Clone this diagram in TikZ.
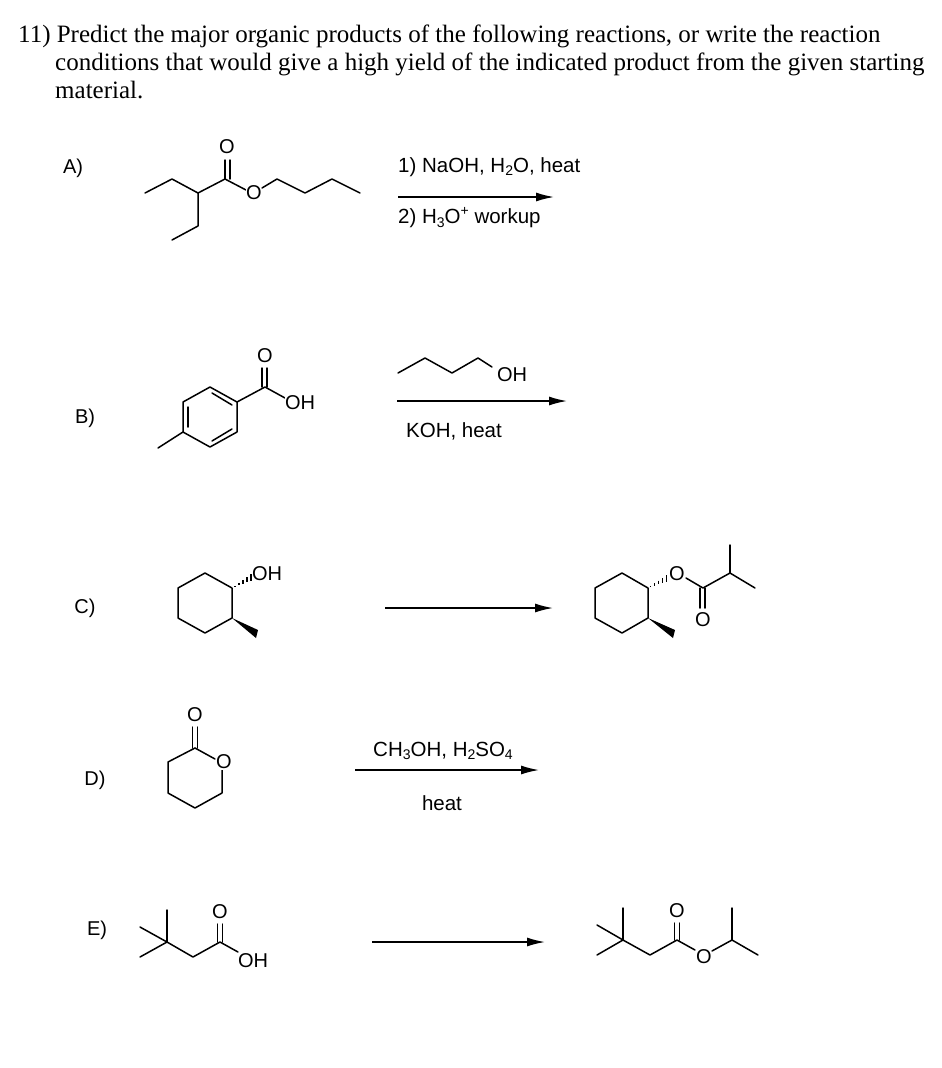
\documentclass[tikz,border=0pt]{standalone}
\usepackage{fontspec}
\setmainfont{Liberation Serif}
\newfontfamily\arial{Liberation Sans}
\usetikzlibrary{arrows.meta,calc}
\newcommand{\sbs}[1]{\raisebox{-0.3ex}{\fontsize{14}{14}\selectfont #1}}
\newcommand{\sps}[1]{\raisebox{0.75ex}{\fontsize{14}{14}\selectfont #1}}
\begin{document}
\begin{tikzpicture}[x=1pt,y=-1pt,
  bond/.style={line width=1.5pt,line cap=round,line join=round},
  atom/.style={font=\arial\fontsize{20}{20}\selectfont,inner sep=0.5pt,fill=white},
  lbl/.style={font=\arial\fontsize{20}{20}\selectfont,inner sep=0pt},
  cond/.style={font=\arial\fontsize{20.5}{20.5}\selectfont,inner sep=0pt},
  ttl/.style={font=\fontsize{25}{25}\selectfont,inner sep=0pt,anchor=base west},
  rarrow/.style={line width=1.5pt,-{Latex[length=18pt,width=9pt]}}]
\useasboundingbox (0,0) rectangle (942,1068);
% title
\node[ttl] (t1) at (18,42) {11) Predict the major organic products of the following reactions, or write the reaction};
\node[ttl] (t2) at (55,70) {conditions that would give a high yield of the indicated product from the given starting};
\node[ttl] (t3) at (55,98) {material.};
% labels
\node[lbl] (la) at (73,168) {A)};
\node[lbl] (lb) at (85,418) {B)};
\node[lbl] (lc) at (85,608) {C)};
\node[lbl] (ld) at (95,780) {D)};
\node[lbl] (le) at (97,930) {E)};

% ===== A =====
\draw[bond] (145,193)--(172,179)--(198,193)--(198,226)--(172,240);
\draw[bond] (198,193)--(225,179)--(246,190);
\draw[bond] (225,179)--(225,160); \draw[bond] (230,179)--(230,160);
\node[atom] (ao) at (227,147) {O};
\node[atom] (ao2) at (254,193) {O};
\draw[bond] (262,188)--(277,179)--(305,193)--(332,179)--(360,193);
\node[cond,anchor=west] (ac1) at (398,167) {1) NaOH, H\sbs{2}O, heat};
\node[cond,anchor=west] (ac2) at (398,218) {2) H\sbs{3}O\sps{+} workup};
\coordinate (aa1) at (398,197); \coordinate (aa2) at (554,197);
\draw[rarrow] (aa1)--(aa2);

% ===== B =====
\draw[bond] (210,387)--(237,402)--(237,432)--(210,447)--(183,432)--(183,402)--cycle;
\draw[bond] (188,407)--(188,427);
\draw[bond] (212,393)--(232,405);
\draw[bond] (212,441)--(232,429);
\draw[bond] (183,432)--(158,448);
\draw[bond] (237,402)--(265,387)--(285,398);
\draw[bond] (262,387)--(262,368); \draw[bond] (267,387)--(267,368);
\node[atom] (bo) at (265,356) {O};
\node[atom] (boh) at (300,403) {OH};
\draw[bond] (398,373)--(425,358)--(452,373)--(478,358)--(492,367);
\node[atom] (boh2) at (512,375) {OH};
\coordinate (ba1) at (397,401); \coordinate (ba2) at (567,401);
\draw[rarrow] (ba1)--(ba2);
\node[cond] (bc) at (454,431) {KOH, heat};

% ===== C =====
\draw[bond] (205,573)--(232,588)--(232,618)--(205,633)--(178,618)--(178,588)--cycle;
\foreach \t in {0.15,0.35,0.55,0.75,0.95}{
  \draw[line width=1.1pt] ($(232,588)!\t!(252,577)+(0,-\t*3.4)$)--($(232,588)!\t!(252,577)+(0,\t*3.4)$);}
\node[atom] (coh) at (267,574) {OH};
\fill (232,618)--(258,630)--(256,638)--cycle;
\coordinate (ca1) at (385,608); \coordinate (ca2) at (553,608);
\draw[rarrow] (ca1)--(ca2);
% product
\draw[bond] (622,573)--(648,588)--(648,618)--(622,633)--(595,618)--(595,588)--cycle;
\foreach \t in {0.15,0.35,0.55,0.75,0.95}{
  \draw[line width=1.1pt] ($(648,588)!\t!(667,578)+(0,-\t*3.4)$)--($(648,588)!\t!(667,578)+(0,\t*3.4)$);}
\node[atom] (cpo) at (677,574) {O};
\draw[bond] (686,578)--(703,588)--(730,573)--(755,588);
\draw[bond] (730,573)--(730,545);
\draw[bond] (700,588)--(700,608); \draw[bond] (705,588)--(705,608);
\node[atom] (cpo2) at (703,620) {O};
\fill (648,618)--(675,630)--(673,638)--cycle;

% ===== D =====
\draw[bond] (195,748)--(215,759);
\draw[bond] (222,770)--(222,793)--(195,808)--(168,793)--(168,762)--(195,748);
\draw[bond] (192.5,748)--(192.5,727); \draw[bond] (197.5,748)--(197.5,727);
\node[atom] (do) at (195,715) {O};
\node[atom] (do2) at (224,762) {O};
\node[cond] (dc1) at (443,751) {CH\sbs{3}OH, H\sbs{2}SO\sbs{4}};
\node[cond] (dc2) at (442,803) {heat};
\coordinate (da1) at (355,770); \coordinate (da2) at (539,770);
\draw[rarrow] (da1)--(da2);

% ===== E =====
\draw[bond] (167,942)--(167,910); \draw[bond] (167,942)--(140,927); \draw[bond] (167,942)--(140,957);
\draw[bond] (167,942)--(193,957)--(220,942)--(238,952);
\draw[bond] (217.5,942)--(217.5,924); \draw[bond] (222.5,942)--(222.5,924);
\node[atom] (eo) at (220,912) {O};
\node[atom] (eoh) at (253,961) {OH};
\coordinate (ea1) at (372,942); \coordinate (ea2) at (545,942);
\draw[rarrow] (ea1)--(ea2);
\draw[bond] (623,940)--(623,908); \draw[bond] (623,940)--(597,925); \draw[bond] (623,940)--(597,955);
\draw[bond] (623,940)--(650,955)--(677,940)--(695,950);
\draw[bond] (674.5,940)--(674.5,923); \draw[bond] (679.5,940)--(679.5,923);
\node[atom] (epo) at (677,911) {O};
\node[atom] (epo2) at (704,957) {O};
\draw[bond] (712,951)--(732,940)--(758,955);
\draw[bond] (732,940)--(732,908);
\end{tikzpicture}
\end{document}
